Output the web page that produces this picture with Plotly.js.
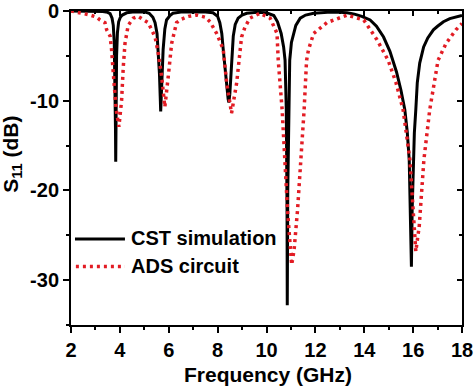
<!DOCTYPE html>
<html>
<head>
<meta charset="utf-8">
<script src="https://cdn.plot.ly/plotly-3.0.1.min.js"></script>
<style>html,body{margin:0;padding:0;background:#fff;}#chart{width:474px;height:386px;}</style>
</head>
<body>
<div id="chart"></div>
<script>
// ---- data ----
const seriesNames = ['CST simulation', 'ADS circuit'];

const freqCST = [2.0, 2.5, 3.0, 3.3, 3.5, 3.6, 3.68, 3.73, 3.77, 3.8, 3.82, 3.83, 3.845, 3.865, 3.9, 3.95, 4.02, 4.1, 4.28, 4.6,
  5.0, 5.2, 5.35, 5.44, 5.52, 5.57, 5.62, 5.65, 5.67, 5.69, 5.72, 5.77, 5.84, 5.91, 6.05, 6.17, 6.5, 7.0, 7.5, 7.81,
  8.0, 8.09, 8.17, 8.23, 8.3, 8.38, 8.43, 8.46, 8.5, 8.54, 8.57, 8.64, 8.72, 8.84, 9.0, 9.19, 9.6, 10.0, 10.3, 10.45,
  10.6, 10.7, 10.76, 10.81, 10.84, 10.85, 10.87, 10.91, 10.95, 11.02, 11.1, 11.2, 11.38, 11.6, 11.93, 12.5, 13.0, 13.3, 13.6, 13.9,
  14.24, 14.5, 14.79, 15.05, 15.32, 15.5, 15.66, 15.76, 15.84, 15.89, 15.93, 15.96, 16.0, 16.05, 16.11, 16.17, 16.27, 16.43, 16.6, 16.83,
  17.0, 17.24, 17.5, 17.79, 18.0];
const s11CST = [0, -0.01, -0.03, -0.06, -0.15, -0.3, -0.8, -1.6, -3.5, -7.5, -13, -16.8, -10, -5, -2.4, -1.2, -0.7, -0.45, -0.2, -0.08,
  -0.1, -0.25, -0.7, -1.3, -2.5, -4.3, -7, -9.5, -11.2, -9.8, -7.2, -4.3, -2.0, -1.0, -0.5, -0.25, -0.12, -0.08, -0.1, -0.2,
  -0.6, -1.3, -2.5, -4.3, -6.5, -8.8, -9.8, -10.2, -9.2, -7.4, -6.0, -2.8, -1.5, -0.8, -0.45, -0.25, -0.15, -0.2, -0.5, -1.2,
  -2.5, -4.0, -5.5, -11, -22, -32.8, -20, -11, -5.5, -3.5, -2.5, -1.6, -0.8, -0.45, -0.25, -0.15, -0.15, -0.2, -0.35, -0.6,
  -1.0, -1.7, -2.9, -4.5, -6.8, -8.8, -11, -13.5, -16.6, -22.2, -28.5, -22.2, -16.6, -13.6, -11, -8, -5.8, -4.0, -3.0, -2.1,
  -1.7, -1.2, -0.85, -0.6, -0.5];

const freqADS = [2.0, 2.49, 2.78, 3.06, 3.19, 3.39, 3.46, 3.6, 3.66, 3.76, 3.85, 3.96, 4.07, 4.14, 4.21, 4.34, 4.55, 4.75, 5.16, 5.44,
  5.57, 5.71, 5.84, 5.98, 6.12, 6.32, 6.53, 6.8, 7.14, 7.5, 7.69, 7.96, 8.23, 8.37, 8.57, 8.78, 8.91, 8.98, 9.12, 9.32,
  9.73, 10.15, 10.43, 10.48, 10.64, 10.75, 10.86, 11.03, 11.13, 11.27, 11.41, 11.54, 11.64, 11.72, 11.93, 12.47, 13.3, 13.98, 14.52, 14.98,
  15.3, 15.59, 15.87, 16.0, 16.11, 16.25, 16.3, 16.44, 16.68, 17.02, 17.35, 17.75, 18.0];
const s11ADS = [0, -0.26, -0.45, -0.7, -1.0, -1.3, -2.1, -2.8, -4.3, -8, -11, -12.9, -10, -6.2, -3.6, -1.6, -0.8, -0.6, -1.3, -2.9,
  -4.7, -7.3, -10.7, -7.3, -3.6, -1.3, -0.9, -0.6, -0.45, -0.7, -1.2, -2.5, -4.3, -8, -11.4, -8, -5.1, -2.9, -1.8, -0.8,
  -0.25, -0.8, -2.5, -5.5, -11, -16.6, -22.2, -28.3, -26.6, -22.2, -16.6, -11, -5.5, -4.3, -2.5, -1.3, -0.45, -1.0, -3.2, -5.5,
  -8, -11, -16.6, -22.2, -26.8, -24, -22.2, -16.6, -11, -5.5, -3.6, -2.1, -1.4];

const xTickVals = [2, 4, 6, 8, 10, 12, 14, 16, 18];
const xTickText = ['2', '4', '6', '8', '10', '12', '14', '16', '18'];
const yTickVals = [0, -10, -20, -30];
const yTickText = ['0', '-10', '-20', '-30'];
const xTitle = 'Frequency (GHz)';
const yTitle = 'S<sub>11</sub> (dB)';

// ---- drawing ----
const FONT = 'Liberation Sans, Arial, Helvetica, sans-serif';
const RED = 'rgb(226,28,36)';

const traces = [
  {x: freqCST, y: s11CST, name: seriesNames[0], mode: 'lines', showlegend: false,
   line: {color: '#000', width: 3}},
  {x: freqADS, y: s11ADS, name: seriesNames[1], mode: 'lines', showlegend: false,
   line: {color: RED, width: 3.5, dash: '3px,4px'}},
  {x: [], y: [], xaxis: 'x2', yaxis: 'y2', showlegend: false, hoverinfo: 'skip'}
];

const axCommon = {
  showline: true, linecolor: '#000', linewidth: 2, showgrid: false, zeroline: false,
  tickcolor: '#000', tickwidth: 2
};

const layout = {
  width: 474, height: 386,
  margin: {l: 71, r: 12, t: 11, b: 61},
  paper_bgcolor: '#fff', plot_bgcolor: '#fff',
  font: {family: FONT, size: 20, color: '#000', weight: 'bold'},
  showlegend: false,
  xaxis: Object.assign({}, axCommon, {
    range: [2, 18], tickmode: 'array', tickvals: xTickVals, ticktext: xTickText,
    ticks: 'outside', ticklen: 6,
    tickfont: {family: FONT, size: 20, color: '#000', weight: 'bold'},
    minor: {dtick: 1, tick0: 2, ticks: 'outside', ticklen: 3, tickwidth: 2, tickcolor: '#000', showgrid: false}
  }),
  yaxis: Object.assign({}, axCommon, {
    range: [-35, 0], tickmode: 'array', tickvals: yTickVals, ticktext: yTickText,
    ticks: 'outside', ticklen: 6,
    tickfont: {family: FONT, size: 20, color: '#000', weight: 'bold'},
    minor: {dtick: 5, tick0: 0, ticks: 'outside', ticklen: 3, tickwidth: 2, tickcolor: '#000', showgrid: false}
  }),
  xaxis2: Object.assign({}, axCommon, {
    overlaying: 'x', side: 'top', anchor: 'y2', range: [2, 18],
    tickmode: 'array', tickvals: xTickVals, showticklabels: false,
    ticks: 'inside', ticklen: 5,
    minor: {dtick: 1, tick0: 2, ticks: 'inside', ticklen: 3, tickwidth: 2, tickcolor: '#000', showgrid: false}
  }),
  yaxis2: Object.assign({}, axCommon, {
    overlaying: 'y', side: 'right', anchor: 'x2', range: [-35, 0],
    tickmode: 'array', tickvals: yTickVals, showticklabels: false,
    ticks: 'inside', ticklen: 5,
    minor: {dtick: 5, tick0: 0, ticks: 'inside', ticklen: 3, tickwidth: 2, tickcolor: '#000', showgrid: false}
  }),
  shapes: [
    {type: 'line', xref: 'paper', yref: 'paper', x0: 0.0102, x1: 0.138, y0: 0.274, y1: 0.274,
     line: {color: '#000', width: 3}},
    {type: 'line', xref: 'paper', yref: 'paper', x0: 0.0125, x1: 0.138, y0: 0.186, y1: 0.186,
     line: {color: RED, width: 3.5, dash: '3px,4px'}}
  ],
  annotations: [
    {text: seriesNames[0], xref: 'paper', yref: 'paper', x: 0.149, y: 0.276, xanchor: 'left', yanchor: 'middle',
     showarrow: false, font: {family: FONT, size: 20, color: '#000', weight: 'bold'}},
    {text: seriesNames[1], xref: 'paper', yref: 'paper', x: 0.149, y: 0.188, xanchor: 'left', yanchor: 'middle',
     showarrow: false, font: {family: FONT, size: 20, color: '#000', weight: 'bold'}},
    {text: xTitle, xref: 'paper', yref: 'paper', x: 0.503, y: -0.159, xanchor: 'center', yanchor: 'middle',
     showarrow: false, font: {family: FONT, size: 21, color: '#000', weight: 'bold'}},
    {text: yTitle, xref: 'paper', yref: 'paper', x: -0.151, y: 0.545, xanchor: 'center', yanchor: 'middle',
     textangle: -90, showarrow: false, font: {family: FONT, size: 21, color: '#000', weight: 'bold'}}
  ]
};

Plotly.newPlot('chart', traces, layout, {staticPlot: true, displayModeBar: false});
</script>
</body>
</html>
